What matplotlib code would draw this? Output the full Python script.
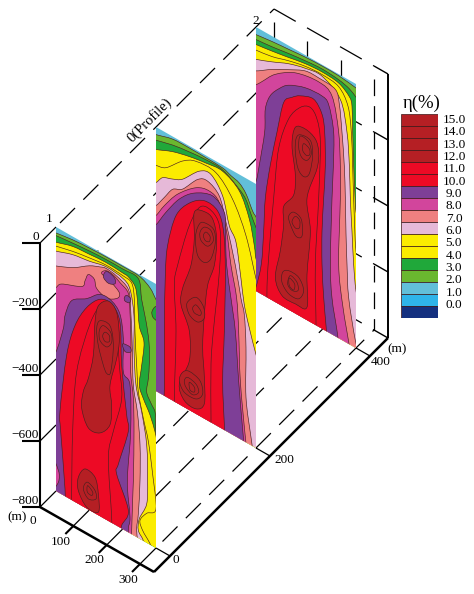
import matplotlib
matplotlib.use('Agg')
import matplotlib.pyplot as plt
from matplotlib.path import Path
from matplotlib.patches import PathPatch, Polygon
from matplotlib.transforms import Affine2D

plt.rcParams['font.family'] = ['Liberation Serif', 'DejaVu Serif']

# isolines of eta, as (distance along section m, depth m)
# panel 1 (front section)
p1_2 = [(-15,19),(0,18),(50,10),(100,6),(150,4),(200,4),(250,5),(282,22),(300,47),(315,65)]
p1_3 = [(-15,27),(0,26),(50,20),(100,15),(150,12),(200,12),(247,14),(257,72),(270,130),(279,189),(280,250),(277,300),(272,343),(285,370),(297,389),(298,420),(302,468),(315,520)]
p1_3b = [(288,90),(300,68),(315,75),(315,110),(300,110),(290,105)]
p1_4 = [(-15,47),(0,46),(50,30),(100,25),(150,21),(200,24),(217,26),(237,43),(244,79),(250,156),(264,198),(257,272),(250,335),(262,369),(282,407),(297,449),(302,471),(315,520)]
p1_5 = [(-15,59),(0,58),(50,45),(100,36),(150,29),(200,32),(227,39),(235,84),(237,183),(242,280),(247,357),(262,429),(277,490),(290,583),(300,682),(272,711),(252,744),(260,770),(282,797),(300,830)]
p1_6 = [(-15,74),(0,73),(50,55),(100,46),(150,34),(200,40),(222,61),(234,135),(234,235),(240,341),(257,412),(272,503),(275,611),(272,683),(250,740),(247,777),(262,799),(280,840)]
p1_7 = [(-15,120),(0,118),(52,93),(100,60),(132,45),(150,39),(182,44),(217,64),(224,120),(229,237),(232,346),(244,419),(252,514),(252,624),(247,727),(242,780),(250,840)]
p1_8 = [(-15,190),(0,183),(17,163),(77,136),(87,113),(97,88),(115,92),(122,116),(152,128),(184,110),(190,90),(167,73),(137,62),(150,46),(170,46),(192,58),(217,76),(222,131),(225,220),(224,310),(232,386),(234,485),(232,636),(227,789),(230,840)]
p1_8b = [(-15,700),(0,718),(10,745),(5,775),(-15,800)]
p1_9 = [(-15,390),(0,378),(22,295),(27,253),(47,196),(92,164),(132,128),(167,128),(192,154),(202,223),(202,323),(222,351),(224,490),(214,646),(222,751),(217,789),(217,840)]
p1_9b = [(152,47),(175,53),(177,70),(157,80),(142,69)]
p1_9c = [(212,85),(224,88),(220,103),(207,105),(205,96)]
p1_9d = [(200,239),(222,236),(224,250),(207,258)]
p1_10 = [(27,850),(27,778),(14,610),(12,551),(32,370),(57,266),(92,191),(132,143),(167,138),(192,179),(197,306),(212,447),(217,494),(187,611),(182,644),(217,734),(197,791),(190,840)]
p1_11 = [(47,850),(47,776),(50,590),(62,403),(102,235),(137,155),(162,146),(182,194),(190,310),(197,406),(172,520),(157,608),(167,783),(167,850)]
p1_12a = [(157,134),(182,154),(190,230),(182,294),(162,386),(167,443),(162,506),(132,548),(97,553),(77,504),(82,451),(97,403),(112,324),(117,221),(127,166)]
p1_12b = [(87,683),(117,691),(127,736),(127,791),(92,796),(67,760),(67,720)]
p1_13a = [(132,208),(162,206),(172,260),(164,345),(152,356),(142,337),(127,286),(122,238)]
p1_14a = [(142,217),(164,225),(167,253),(152,276),(132,268),(130,239)]
p1_15a = [(147,234),(160,237),(160,255),(147,262),(140,250)]
p1_13b = [(94,719),(117,731),(120,755),(97,768),(82,746)]
p1_14b = [(95,729),(110,740),(107,752),(94,749)]

# panel 2 (middle section)
p2_2 = [(-15,24),(0,23),(50,8),(100,6),(150,7),(200,9),(225,18),(250,26),(270,47),(290,88),(300,100),(315,125)]
p2_3 = [(-15,41),(0,40),(50,26),(100,18),(150,13),(200,15),(250,45),(270,65),(285,100),(300,132),(315,160)]
p2_4 = [(-15,69),(0,68),(50,46),(100,32),(150,23),(200,19),(250,50),(280,118),(295,190),(300,227),(315,260)]
p2_5 = [(-15,118),(0,116),(30,106),(80,57),(120,35),(180,35),(230,87),(270,174),(300,287),(315,330)]
p2_6 = [(-15,170),(0,168),(20,142),(50,129),(80,112),(130,59),(165,49),(200,94),(220,173),(240,211),(255,313),(265,387),(280,448),(300,517),(315,560)]
p2_7 = [(-15,245),(0,238),(25,199),(50,160),(80,142),(125,87),(155,75),(190,100),(210,168),(238,282),(255,373),(265,417),(270,514),(270,664),(285,776),(295,840)]
p2_8 = [(-15,275),(0,268),(25,224),(65,166),(120,115),(160,102),(190,120),(212,197),(225,290),(242,380),(248,477),(253,624),(268,785),(275,840)]
p2_9 = [(-15,305),(0,296),(30,241),(70,178),(115,134),(170,111),(205,141),(208,201),(212,297),(225,390),(238,482),(248,627),(262,789),(268,840)]
p2_10 = [(22,850),(25,779),(25,604),(28,432),(35,338),(60,234),(100,173),(145,140),(185,148),(203,202),(208,319),(205,501),(200,654),(205,783),(208,840)]
p2_11 = [(55,850),(55,782),(60,584),(55,447),(65,381),(100,241),(135,163),(175,163),(193,208),(190,330),(172,520),(165,624),(165,784),(165,850)]
p2_12 = [(115,192),(145,173),(170,181),(182,234),(175,318),(155,390),(145,485),(140,588),(145,675),(145,755),(120,785),(85,780),(70,738),(100,651),(100,561),(75,495),(80,442),(105,358),(115,272)]
p2_13a = [(140,208),(172,210),(178,247),(165,304),(145,327),(125,317),(118,271),(125,232)]
p2_14a = [(145,220),(165,219),(172,245),(155,272),(135,266),(132,243)]
p2_15a = [(150,232),(162,238),(160,255),(148,259),(142,247)]
p2_13b = [(120,447),(142,462),(145,495),(125,519),(100,511),(93,480)]
p2_14b = [(120,470),(135,481),(132,495),(115,497),(110,485)]
p2_13c = [(100,683),(132,693),(140,728),(120,755),(85,755),(70,728),(80,697)]
p2_14c = [(95,704),(120,710),(128,730),(110,748),(90,737),(85,720)]
p2_15c = [(100,716),(115,722),(115,737),(102,738)]

# panel 3 (back section)
p3_2 = [(-15,24),(0,23),(50,16),(100,11),(150,6),(200,4),(250,5),(300,12),(315,14)]
p3_3 = [(-15,39),(0,38),(50,32),(98,24),(150,17),(198,13),(248,17),(280,26),(300,40),(315,50)]
p3_4 = [(-15,54),(0,53),(50,45),(98,36),(148,26),(198,22),(248,27),(280,50),(288,74),(290,150),(293,251),(296,320),(300,387),(315,440)]
p3_5 = [(-15,72),(0,70),(48,62),(98,46),(148,34),(198,30),(248,38),(276,81),(286,155),(290,253),(293,351),(300,507),(315,560)]
p3_6 = [(-15,100),(0,98),(48,78),(98,55),(148,40),(198,35),(253,74),(273,162),(280,258),(283,357),(288,454),(293,551),(300,627),(315,700)]
p3_7 = [(-15,135),(0,133),(48,101),(98,73),(148,48),(188,46),(238,52),(250,90),(258,171),(265,270),(268,365),(270,470),(273,562),(278,660),(298,778),(315,830)]
p3_8 = [(-15,185),(0,175),(18,155),(58,110),(118,71),(188,58),(228,78),(248,176),(253,280),(253,374),(248,575),(258,680),(273,767),(285,830)]
p3_9 = [(-20,520),(0,468),(10,412),(26,303),(28,232),(43,183),(70,146),(98,120),(148,99),(198,95),(218,110),(233,185),(232,290),(228,388),(223,591),(228,690),(243,780),(250,830)]
p3_10 = [(-10,810),(0,788),(16,709),(23,605),(28,502),(43,393),(63,282),(83,181),(108,151),(133,132),(173,119),(198,150),(206,200),(208,299),(203,402),(198,505),(198,605),(203,702),(210,783),(214,830)]
p3_11 = [(33,850),(33,769),(38,676),(53,488),(68,329),(98,222),(133,167),(163,150),(183,174),(193,238),(188,411),(178,617),(180,785),(180,850)]
p3_12 = [(118,236),(148,224),(178,237),(188,271),(183,324),(153,431),(163,525),(153,661),(153,761),(118,771),(78,769),(58,725),(73,636),(83,551),(83,496),(113,444),(118,381),(108,296)]
p3_13a = [(133,250),(163,250),(170,291),(160,352),(143,371),(126,356),(118,311),(120,270)]
p3_14a = [(133,254),(158,258),(166,288),(153,316),(136,315),(128,290)]
p3_15a = [(143,271),(160,277),(161,294),(151,302),(140,293)]
p3_13b = [(113,496),(136,505),(138,554),(120,565),(103,539),(98,517)]
p3_14b = [(118,506),(131,511),(130,534),(118,541),(108,528)]
p3_13c = [(98,682),(128,685),(143,716),(128,750),(98,752),(78,729),(80,697)]
p3_14c = [(103,694),(123,703),(126,726),(108,736),(95,724)]
p3_15c = [(100,703),(116,712),(113,732),(100,726)]

# scale bar
legend_levels = [15, 14, 13, 12, 11, 10, 9, 8, 7, 6, 5, 4, 3, 2, 1, 0]
legend_colors = ['#b51f24', '#b51f24', '#b51f24', '#b51f24', '#ed0a25', '#ed0a25', '#7e3f97', '#d2459c',
                 '#ef8080', '#e6b9d8', '#fbec00', '#fbec00', '#20a83a', '#6ab72f', '#62bfd9', '#2fb4e9', '#14307f']
level_colors = {2: '#6ab72f', 3: '#20a83a', 4: '#fbec00', 5: '#fbec00', 6: '#e6b9d8', 7: '#ef8080', 8: '#d2459c',
                9: '#7e3f97', 10: '#ed0a25', 11: '#ed0a25', 12: '#b51f24', 13: '#b51f24', 14: '#b51f24', 15: '#b51f24'}
base_color = '#62bfd9'
line_color = '#4a2020'

# axes of the block
x_ticks = [0, 100, 200, 300]
x_dash_start = [40, 60, 51, 45]
z_ticks = [0, 200, 400, 600, 800]
profile_pos = [32, 232, 432]
profile_ticks = [0, 200, 400]
x_end = 342
y_end = 468


def proj(x, y, z):
    return 40 + x / 3 + y / 2, 243 + 0.19 * x - y / 2 + 0.33 * z


def beziers(pts, closed):
    # catmull-rom segments, so the curve goes through the points that were read
    n = len(pts)
    verts = []
    for i in range(n if closed else n - 1):
        p0 = pts[(i - 1) % n] if closed or i > 0 else pts[i]
        p1 = pts[i]
        p2 = pts[(i + 1) % n]
        p3 = pts[(i + 2) % n] if closed or i + 2 < n else p2
        verts += [(p1[0] + (p2[0] - p0[0]) / 6, p1[1] + (p2[1] - p0[1]) / 6),
                  (p2[0] - (p3[0] - p1[0]) / 6, p2[1] - (p3[1] - p1[1]) / 6), p2]
    return verts


def below(line):
    verts = [line[0]] + beziers(line, False) + [(340, 850), (-40, 850), line[0]]
    codes = [Path.MOVETO] + [Path.CURVE4] * (len(verts) - 4) + [Path.LINETO, Path.LINETO, Path.CLOSEPOLY]
    return Path(verts, codes)


def ring(pts):
    verts = [pts[0]] + beziers(pts, True)
    return Path(verts, [Path.MOVETO] + [Path.CURVE4] * (len(verts) - 1))


fig = plt.figure(figsize=(4.74, 5.94), dpi=100)
ax = fig.add_axes([0, 0, 1, 1])
ax.set_xlim(0, 474)
ax.set_ylim(594, 0)
ax.axis('off')


def seg(a, b, **kw):
    p, q = proj(*a), proj(*b)
    ax.plot([p[0], q[0]], [p[1], q[1]], color='k', solid_capstyle='butt', zorder=1, **kw)


y_dash = (0, (17, 9.4))
x_dash = (0, (20, 10.4))
v_dash = (0, (13.3, 8))

# dashed lines on the left wall and floor
for z in z_ticks:
    seg((0, 0, z), (0, 32, z), lw=0.9)
    seg((0, 40, z), (0, y_end, z), lw=0.9, linestyle=y_dash)
    seg((0, y_end, z), (300, y_end, z), lw=0.9, linestyle=x_dash)
    seg((300, y_end, z), (x_end, y_end, z), lw=1.0)
for x, start in zip(x_ticks[1:], x_dash_start[1:]):
    seg((x, -16, 800), (x, 0, 800), lw=1.5)
    seg((x, 0, 800), (x, 32, 800), lw=0.9)
    seg((x, start, 800), (x, y_end, 800), lw=0.9, linestyle=y_dash)
for x in x_ticks:
    seg((x, y_end, 40), (x, y_end, 800), lw=0.9, linestyle=v_dash)
for y in profile_pos:
    seg((300, y, 800), (x_end, y, 800), lw=0.9)

# solid frame
seg((0, 0, 0), (0, 0, 800), lw=1.5)
seg((0, 0, 800), (x_end, 0, 800), lw=1.8)
seg((x_end, 0, 800), (x_end, y_end, 800), lw=1.8)
seg((x_end, y_end, 0), (x_end, y_end, 800), lw=1.4)
for z in z_ticks:
    py = proj(0, 0, z)[1]
    ax.plot([22, 40], [py, py], color='k', lw=1.5, zorder=1, solid_capstyle='butt')
    label = '0' if z == 0 else '\u2212%d' % z
    ax.text(39, py - 6.5, label, ha='right', va='center', fontsize=9.5, zorder=10)

p1_layers = [(2, below(p1_2)), (3, below(p1_3)), (3, ring(p1_3b)), (4, below(p1_4)), (5, below(p1_5)), (6, below(p1_6)),
             (7, below(p1_7)), (8, below(p1_8)), (9, below(p1_9)), (8, ring(p1_8b)), (9, ring(p1_9b)), (9, ring(p1_9c)),
             (9, ring(p1_9d)), (10, below(p1_10)), (11, below(p1_11)), (12, ring(p1_12a)), (12, ring(p1_12b)),
             (13, ring(p1_13a)), (14, ring(p1_14a)), (15, ring(p1_15a)), (13, ring(p1_13b)), (14, ring(p1_14b))]
p2_layers = [(2, below(p2_2)), (3, below(p2_3)), (4, below(p2_4)), (5, below(p2_5)), (6, below(p2_6)),
             (7, below(p2_7)), (8, below(p2_8)), (9, below(p2_9)), (10, below(p2_10)), (11, below(p2_11)),
             (12, ring(p2_12)), (13, ring(p2_13a)), (14, ring(p2_14a)), (15, ring(p2_15a)), (13, ring(p2_13b)),
             (14, ring(p2_14b)), (13, ring(p2_13c)), (14, ring(p2_14c)), (15, ring(p2_15c))]
p3_layers = [(2, below(p3_2)), (3, below(p3_3)), (4, below(p3_4)), (5, below(p3_5)), (6, below(p3_6)),
             (7, below(p3_7)), (8, below(p3_8)), (9, below(p3_9)), (10, below(p3_10)), (11, below(p3_11)),
             (12, ring(p3_12)), (13, ring(p3_13a)), (14, ring(p3_14a)), (15, ring(p3_15a)), (13, ring(p3_13b)),
             (14, ring(p3_14b)), (13, ring(p3_13c)), (14, ring(p3_14c)), (15, ring(p3_15c))]

# back to front so the nearer section covers the lines behind it
for y, layers, zo in [(profile_pos[2], p3_layers, 2), (profile_pos[1], p2_layers, 3), (profile_pos[0], p1_layers, 4)]:
    tr = Affine2D.from_values(1 / 3, 0.19, 0, 0.33, 40 + y / 2, 243 - y / 2) + ax.transData
    base = Polygon([(0, 0), (300, 0), (300, 800), (0, 800)], closed=True, facecolor=base_color, edgecolor='none',
                   transform=tr, zorder=zo)
    ax.add_patch(base)
    for level, path in layers:
        patch = PathPatch(path, facecolor=level_colors[level], edgecolor=line_color, lw=0.45, transform=tr, zorder=zo)
        ax.add_patch(patch)
        patch.set_clip_path(base)

# axis texts
ax.text(7, 517, '(m)', ha='left', va='center', fontsize=9.5, zorder=10)
ax.text(33, 521, '0', ha='center', va='center', fontsize=9.5, zorder=10)
for x, px, py in zip(x_ticks[1:], [61, 94, 128], [542, 560, 580]):
    ax.text(px, py, str(x), ha='center', va='center', fontsize=9.5, zorder=10)
for t, px, py in zip(profile_ticks, [176, 284, 381], [560, 460, 362]):
    ax.text(px, py, str(t), ha='center', va='center', fontsize=9.5, zorder=10)
ax.text(387, 349, '(m)', ha='left', va='center', fontsize=9.5, zorder=10)
ax.text(49, 219, '1', ha='center', va='center', fontsize=9.5, zorder=10)
ax.text(256, 21, '2', ha='center', va='center', fontsize=9.5, zorder=10)
ax.text(150, 120, '0(Profile)', ha='center', va='center', rotation=45, rotation_mode='anchor', fontsize=10.5, zorder=10)

# colour scale
lax = fig.add_axes([401 / 474, 1 - 318 / 594, 37 / 474, 204 / 594])
lax.barh(range(len(legend_colors)), [1] * len(legend_colors), height=1, color=legend_colors,
         edgecolor='#3a1616', linewidth=0.5)
lax.set_xlim(0, 1)
lax.set_ylim(len(legend_colors) - 0.5, -0.5)
lax.axis('off')
for v in legend_levels:
    ax.text(454, 305 - v * 12.33, '%.1f' % v, ha='center', va='center', fontsize=9.5, zorder=10)
ax.text(422, 103, '\u03b7(%)', ha='center', va='center', fontsize=13.5, zorder=10)

fig.savefig('out.png', dpi=100)
plt.close(fig)
